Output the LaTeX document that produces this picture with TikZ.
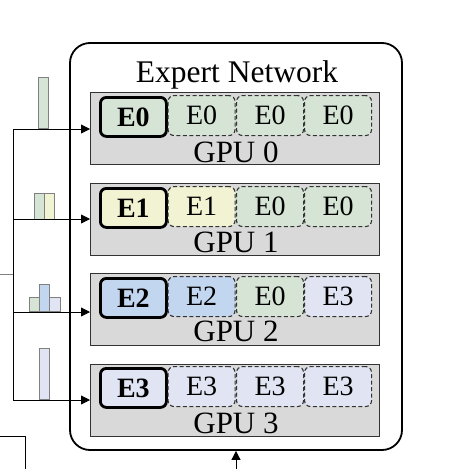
\documentclass[tikz,border=0pt]{standalone}
\usepackage{fontspec}
\setmainfont{Liberation Serif}
\usetikzlibrary{arrows.meta}
\definecolor{cgreen}{HTML}{D5E4D4}
\definecolor{cyellow}{HTML}{F2F3D2}
\definecolor{cblue}{HTML}{C3D6EF}
\definecolor{clav}{HTML}{E1E5F3}
\definecolor{cgray}{HTML}{D9D9D9}
\definecolor{cline}{HTML}{333333}
\tikzset{
  outerbox/.style={draw=black, line width=1.8pt, rounded corners=20pt},
  gpubox/.style={draw=cline, line width=1.3pt, fill=cgray, minimum width=289pt, minimum height=72pt, inner sep=0pt, anchor=north west},
  mainexp/.style={draw=black, line width=2.8pt, rounded corners=6pt, minimum width=66pt, minimum height=39pt, inner sep=0pt, anchor=north west, font=\fontsize{28}{28}\selectfont\bfseries},
  repexp/.style={draw=cline, line width=1.1pt, dash pattern=on 4pt off 2.5pt, rounded corners=6pt, minimum width=67pt, minimum height=40pt, inner sep=0pt, anchor=north west, font=\fontsize{28}{28}\selectfont},
  gpulabel/.style={anchor=base, inner sep=0pt, font=\fontsize{31}{31}\selectfont},
  feed/.style={draw=black, line width=0.8pt},
  feedarrow/.style={draw=black, line width=0.8pt, -{Triangle[length=9pt,width=9pt]}},
  bar/.style={draw=gray, line width=0.7pt}
}
\begin{document}
\begin{tikzpicture}[x=1pt,y=-1pt]
\useasboundingbox (0,0) rectangle (460,469);
% outer box
\draw[outerbox] (70,43) rectangle (402,450);
\node[anchor=base, inner sep=0pt, font=\fontsize{31.5}{31.5}\selectfont] (title) at (237,82) {Expert Network};

% GPU boxes
\node[gpubox] (g0) at (90,92) {};
\node[gpubox] (g1) at (90,182.5) {};
\node[gpubox] (g2) at (90,272.5) {};
\node[gpubox] (g3) at (90,364) {};

\node[gpulabel] (l0) at (236,162) {GPU 0};
\node[gpulabel] (l1) at (236,252.5) {GPU 1};
\node[gpulabel] (l2) at (236,341.5) {GPU 2};
\node[gpulabel] (l3) at (236,433.5) {GPU 3};

% GPU0 experts
\node[mainexp, fill=cgreen] (e00) at (99,96) {E0};
\node[repexp, fill=cgreen] (e01) at (167.5,95) {E0};
\node[repexp, fill=cgreen] (e02) at (236,95) {E0};
\node[repexp, fill=cgreen] (e03) at (304,95) {E0};
% GPU1
\node[mainexp, fill=cyellow] (e10) at (99,187) {E1};
\node[repexp, fill=cyellow] (e11) at (167.5,186) {E1};
\node[repexp, fill=cgreen] (e12) at (236,186) {E0};
\node[repexp, fill=cgreen] (e13) at (304,186) {E0};
% GPU2
\node[mainexp, fill=cblue] (e20) at (99,277) {E2};
\node[repexp, fill=cblue] (e21) at (167.5,276) {E2};
\node[repexp, fill=cgreen] (e22) at (236,276) {E0};
\node[repexp, fill=clav] (e23) at (304,276) {E3};
% GPU3
\node[mainexp, fill=clav] (e30) at (99,367) {E3};
\node[repexp, fill=clav] (e31) at (167.5,366) {E3};
\node[repexp, fill=clav] (e32) at (236,366) {E3};
\node[repexp, fill=clav] (e33) at (304,366) {E3};

% load bars
\draw[bar, fill=cgreen] (38,77) rectangle (48,128);
\draw[bar, fill=cgreen] (34,193) rectangle (44,219);
\draw[bar, fill=cyellow] (44,193) rectangle (54,219);
\draw[bar, fill=cgreen] (29,297) rectangle (39,311);
\draw[bar, fill=cblue] (39,284) rectangle (49,311);
\draw[bar, fill=clav] (49,297) rectangle (60,311);
\draw[bar, fill=clav] (39,348) rectangle (49,399);

% dispatch lines
\coordinate (t0) at (13,129);
\coordinate (t1) at (13,219);
\coordinate (t2) at (13,312);
\coordinate (t3) at (13,400);
\coordinate (inl) at (0,274);
\coordinate (inr) at (13,274);
\draw[feed] (t0) -- (t3);
\draw[feed, draw=gray] (inl) -- (inr);
\draw[feedarrow] (t0) -- (g0.west |- t0);
\draw[feedarrow] (t1) -- (g1.west |- t1);
\draw[feedarrow] (t2) -- (g2.west |- t2);
\draw[feedarrow] (t3) -- (g3.west |- t3);

% bottom-left box corner
\coordinate (bl1) at (0,436);
\coordinate (bl2) at (25,436);
\coordinate (bl3) at (25,469);
\draw[feed] (bl1) -- (bl2) -- (bl3);

% bottom arrow
\coordinate (ba) at (236,469);
\coordinate (bb) at (236,450.9);
\draw[feedarrow] (ba) -- (bb);
\end{tikzpicture}
\end{document}
